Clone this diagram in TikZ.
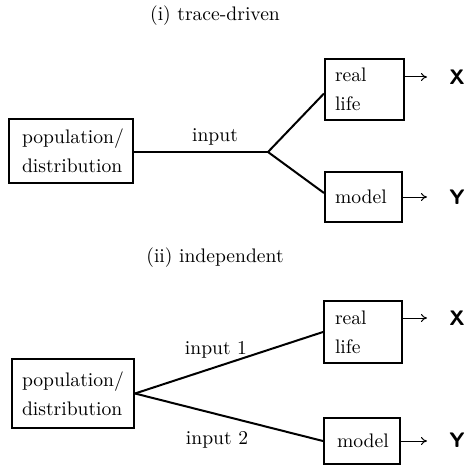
\documentclass[tikz,border=0pt]{standalone}
\usetikzlibrary{arrows.meta,calc}
\begin{document}
\begin{tikzpicture}[x=0.5pt,y=-0.5pt,
  every node/.style={font=\fontsize{9.8}{14.5}\selectfont},
  boxnode/.style={draw,line width=1pt,align=left,inner xsep=0pt,inner ysep=0pt},
  wire/.style={line width=1pt},
  outarrow/.style={line width=0.5pt,-{To[length=3pt,width=4pt]}},
  outlabel/.style={font=\fontsize{10.5}{12}\selectfont\sffamily\bfseries}]
\useasboundingbox (0,0) rectangle (474,476);
% (i) trace-driven
\node (t1) at (215,16) {(i) trace-driven};
\node[boxnode,minimum width=62pt,minimum height=32pt,text width=49pt] (pop1) at (71,151) {population/\\distribution};
\node[boxnode,minimum width=39.5pt,minimum height=30.5pt,text width=29.5pt] (real1) at (364.5,89.5) {real\\life};
\node[boxnode,minimum width=38.5pt,minimum height=25pt,text width=28.5pt] (model1) at (363.5,197) {model};
\coordinate (br1) at (268,152);
\draw[wire] (pop1.east |- br1) -- (br1);
\node (in1) at (215,137) {input};
\draw[wire] (br1) -- ([yshift=-2pt]real1.west);
\draw[wire] (br1) -- ([yshift=2pt]model1.west);
\node[outlabel] (X1) at (457,77) {X};
\node[outlabel] (Y1) at (457,197) {Y};
\draw[outarrow] (real1.east |- 0,77) -- (427,77);
\draw[outarrow] (model1.east) -- (427,197);
% (ii) independent
\node (t2) at (215,258) {(ii) independent};
\node[boxnode,minimum width=61pt,minimum height=34.5pt,text width=51pt] (pop2) at (73,393.5) {population/\\distribution};
\node[boxnode,minimum width=39pt,minimum height=31pt,text width=28pt] (real2) at (363,332) {real\\life};
\node[boxnode,minimum width=38pt,minimum height=23pt,text width=25pt] (model2) at (362,441) {model};
\draw[wire] (pop2.east) -- (real2.west);
\draw[wire] (pop2.east) -- (model2.west);
\node (in21) at (216,350) {input 1};
\node (in22) at (217,440) {input 2};
\node[outlabel] (X2) at (457,318) {X};
\node[outlabel] (Y2) at (457,440) {Y};
\draw[outarrow] (real2.east |- 0,318) -- (427,318);
\draw[outarrow] (model2.east) -- (427,441);
\end{tikzpicture}
\end{document}
